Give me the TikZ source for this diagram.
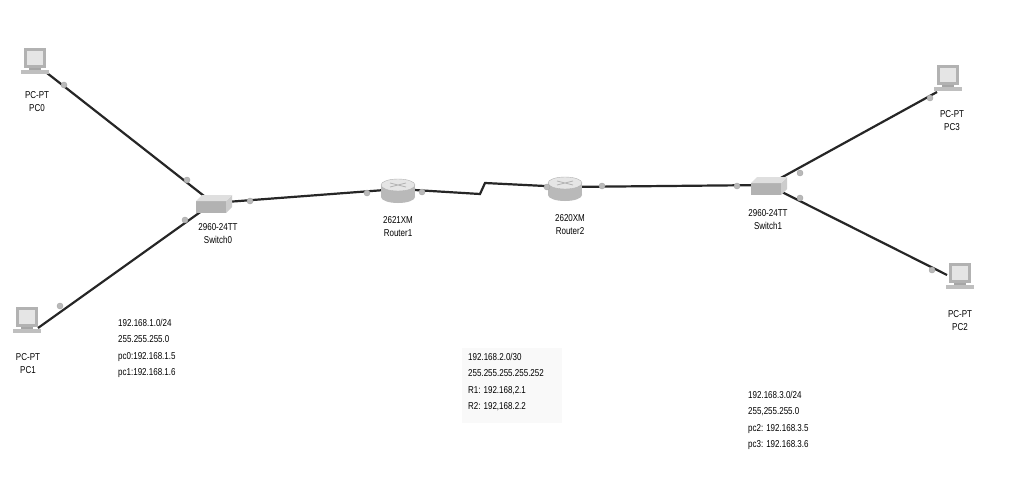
\documentclass[tikz,border=0pt]{standalone}
\usepackage{fontspec}
\setmainfont{Liberation Sans}
\begin{document}
\begin{tikzpicture}[x=1pt,y=-1pt,
  lbl/.style={font=\fontsize{10}{11}\selectfont\addfontfeatures{FakeStretch=0.8},inner sep=0pt,align=center},
  info/.style={font=\fontsize{10}{16.3}\selectfont\addfontfeatures{FakeStretch=0.8},align=left,anchor=north west,inner sep=0pt},
  cable/.style={line width=2.2pt,draw=black!85},
  port/.style={circle,fill=gray!55,draw=gray!70,inner sep=0pt,minimum size=6pt}]
\useasboundingbox (0,0) rectangle (1024,484);
\fill[white] (0,0) rectangle (1024,484);
\tikzset{pc/.pic={
  \fill[gray!60] (-11,-15) rectangle (11,5);
  \fill[gray!20] (-8,-12) rectangle (8,2);
  \fill[gray!50] (-14,7) rectangle (14,11);
  \fill[gray!70] (-6,5) rectangle (6,7);},
 router/.pic={
  \fill[gray!55] (-17,-4) rectangle (17,8);
  \fill[gray!55] (0,8) ellipse (17 and 6);
  \fill[gray!20,draw=gray!60] (0,-4) ellipse (17 and 6);
  \draw[gray!60,thick] (-8,-6)--(8,-2) (-8,-2)--(8,-6);},
 switch/.pic={
  \fill[gray!60] (-17,-2) rectangle (13,10);
  \fill[gray!40] (13,10)--(13,-2)--(19,-8)--(19,4)--cycle;
  \fill[gray!25] (-17,-2)--(13,-2)--(19,-8)--(-11,-8)--cycle;}}
% coordinates
\coordinate (pc0) at (35,63); \coordinate (pc1) at (27,322);
\coordinate (sw0) at (213,203); \coordinate (r1) at (398,189);
\coordinate (r2) at (565,187); \coordinate (sw1) at (768,185);
\coordinate (pc3) at (948,80); \coordinate (pc2) at (960,278);
\coordinate (z1) at (480,194); \coordinate (z2) at (485,183);
% cables
\draw[cable] (47,73) -- (sw0);
\draw[cable] (38,328) -- (sw0);
\draw[cable] (sw0) -- (r1);
\draw[cable] (r1) -- (z1) -- (z2) -- (r2);
\draw[cable] (r2) -- (sw1);
\draw[cable] (sw1) -- (937,92);
\draw[cable] (sw1) -- (947,275);
% devices
\pic at (pc0) {pc}; \pic at (pc1) {pc}; \pic at (pc3) {pc}; \pic at (pc2) {pc};
\pic at (sw0) {switch}; \pic at (sw1) {switch};
\pic at (r1) {router}; \pic at (r2) {router};
% ports
\foreach \p in {(64,85),(187,180),(185,220),(250,201),(367,193),(422,192),(547,187),(602,186),(737,186),(800,173),(800,198),(930,98),(932,270),(60,306)}
  \node[port] at \p {};
% labels
\node[lbl] (l0) at (37,102) {PC-PT\\[2pt]PC0};
\node[lbl] (l1) at (28,364) {PC-PT\\[2pt]PC1};
\node[lbl] (l2) at (218,234) {2960-24TT\\[2pt]Switch0};
\node[lbl] (l3) at (398,227) {2621XM\\[2pt]Router1};
\node[lbl] (l4) at (570,225) {2620XM\\[2pt]Router2};
\node[lbl] (l5) at (768,220) {2960-24TT\\[2pt]Switch1};
\node[lbl] (l6) at (952,121) {PC-PT\\[2pt]PC3};
\node[lbl] (l7) at (960,321) {PC-PT\\[2pt]PC2};
% info
\node[info] (i1) at (118,319) {192.168.1.0/24\\255.255.255.0\\pc0:192.168.1.5\\pc1:192.168.1.6};
\fill[gray!5] (462,348) rectangle (562,423);
\node[info] (i2) at (468,353) {192.168.2.0/30\\255.255.255.255.252\\R1: 192.168,2.1\\R2: 192,168.2.2};
\node[info] (i3) at (748,391) {192.168.3.0/24\\255,255.255.0\\pc2: 192.168.3.5\\pc3: 192.168.3.6};
\end{tikzpicture}
\end{document}
